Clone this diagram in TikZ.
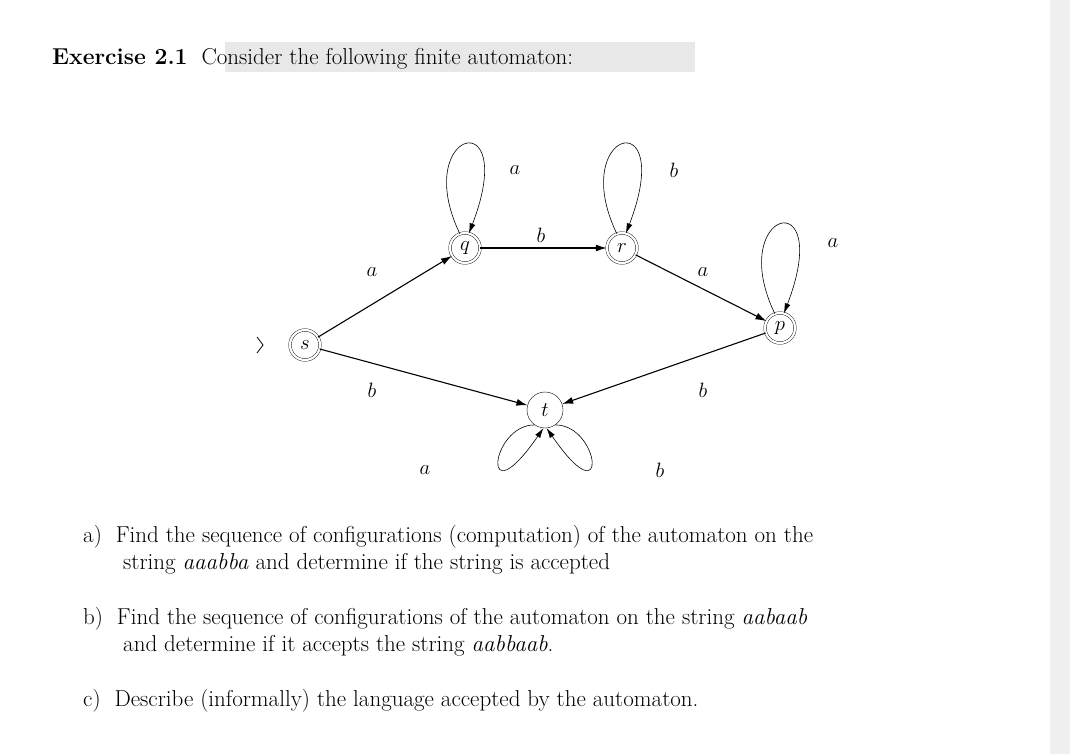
\documentclass[tikz,border=0pt]{standalone}
\usetikzlibrary{arrows.meta,calc}
\begin{document}
\begin{tikzpicture}[x=1pt,y=-1pt,
  acc/.style={circle,draw,double,double distance=2.2pt,minimum size=30pt,inner sep=0pt,font=\fontsize{22}{22}\selectfont},
  st/.style={circle,draw,minimum size=36pt,inner sep=0pt,font=\fontsize{22}{22}\selectfont},
  edge/.style={-{Latex[length=11pt,width=7pt]},line width=1.1pt},
  lp/.style={-{Latex[length=10pt,width=6pt]},line width=0.6pt},
  lbl/.style={font=\fontsize{22}{22}\selectfont},
  txt/.style={anchor=base west,inner sep=0pt,font=\fontsize{23}{27}\selectfont}]
\useasboundingbox (0,0) rectangle (1070,754);
\fill[gray!12] (1050,0) rectangle (1070,754);
\fill[gray!18] (225,42) rectangle (695,72);
\node[txt] (title) at (52,65) {\textbf{Exercise 2.1}\ \ Consider the following finite automaton:};
\node[acc] (s) at (305,345) {$s$};
\node[acc] (q) at (465,248) {$q$};
\node[acc] (r) at (622,248) {$r$};
\node[acc] (p) at (780,328) {$p$};
\node[st]  (t) at (545,410) {$t$};
\coordinate (in) at (263,345);
\draw[line width=0.8pt] ($(in)+(-6,-8)$) -- (in) -- ($(in)+(-6,8)$);
\draw[edge] (s) -- (q);
\draw[edge] (q) -- (r);
\draw[edge] (r) -- (p);
\draw[edge] (s) -- (t);
\draw[edge] (p) -- (t);
\node[lbl] (l1) at (372,272) {$a$};
\node[lbl] (l2) at (541,235) {$b$};
\node[lbl] (l3) at (703,272) {$a$};
\node[lbl] (l4) at (372,390) {$b$};
\node[lbl] (l5) at (703,390) {$b$};
\draw[lp] (q.110) .. controls (410,130) and (520,100) .. (q.75);
\node[lbl] (l6) at (515,170) {$a$};
\draw[lp] (r.110) .. controls (567,130) and (677,100) .. (r.75);
\node[lbl] (l7) at (674,170) {$b$};
\draw[lp] (p.110) .. controls (725,210) and (835,180) .. (p.75);
\node[lbl] (l8) at (833,243) {$a$};
\draw[lp] (t.235) .. controls (490,425) and (480,520) .. (t.265);
\node[lbl] (l9) at (425,470) {$a$};
\draw[lp] (t.305) .. controls (600,425) and (610,520) .. (t.275);
\node[lbl] (l10) at (660,470) {$b$};
\node[txt] (a1) at (83,542) {a)\ \ Find the sequence of configurations (computation) of the automaton on the};
\node[txt] (a2) at (123,569) {string \textit{aaabba} and determine if the string is accepted};
\node[txt] (b1) at (83,624) {b)\ \ Find the sequence of configurations of the automaton on the string \textit{aabaab}};
\node[txt] (b2) at (123,651) {and determine if it accepts the string \textit{aabbaab}.};
\node[txt] (c1) at (83,706) {c)\ \ Describe (informally) the language accepted by the automaton.};
\end{tikzpicture}
\end{document}
